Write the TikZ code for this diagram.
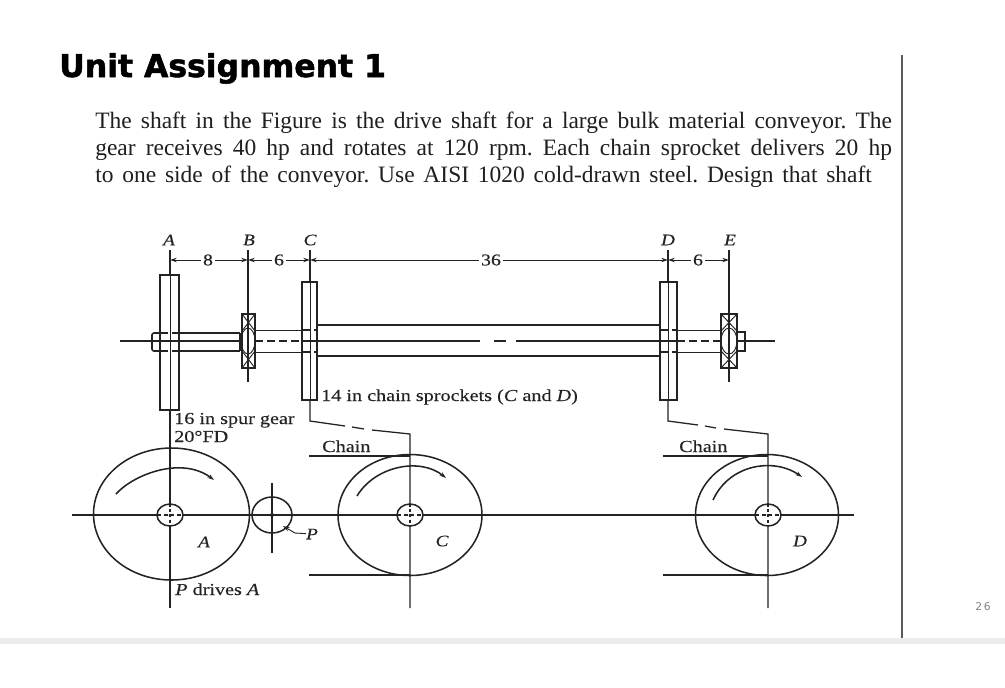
\documentclass[tikz,border=0pt]{standalone}
\usepackage{fontspec}
\setmainfont{Liberation Serif}
\newfontfamily\titlefont[BoldFeatures={FakeBold=1.6}]{DejaVu Sans}
\newfontfamily\figfont[FakeStretch=1.2, FakeBold=0.25]{Liberation Serif}
\usepackage{tikz}
\usetikzlibrary{shapes,arrows,arrows.meta,positioning,calc}
\definecolor{inkgray}{RGB}{35,35,35}
\definecolor{rulegray}{RGB}{90,90,90}
\definecolor{footgray}{RGB}{236,236,236}
\definecolor{pagegray}{RGB}{130,130,130}
\tikzset{
  figline/.style={draw=inkgray, line width=0.95pt},
  wheelline/.style={draw=inkgray, line width=1.15pt},
  thinline/.style={draw=inkgray, line width=0.7pt},
  hidden/.style={draw=inkgray, line width=0.8pt, dash pattern=on 6pt off 3pt},
  bodytext/.style={anchor=base west, inner sep=0pt, font=\fontsize{17.6}{20}\selectfont, text=black!88},
  figtext/.style={anchor=base west, inner sep=0pt, font=\figfont\fontsize{12.6}{14}\selectfont, text=inkgray},
  letter/.style={inner sep=0pt, font=\figfont\fontsize{12}{14}\selectfont\itshape, text=inkgray},
  dimnum/.style={inner sep=1.5pt, font=\figfont\fontsize{12.4}{14}\selectfont, text=inkgray}
}

\begin{document}
\begin{tikzpicture}[x=0.75pt, y=-0.75pt, >={Stealth[length=5pt,width=3.2pt]}]
    \useasboundingbox (0,0) rectangle (1005,687);
    \fill[white] (0,0) rectangle (1005,687);

    % slide frame
    \fill[footgray] (0,638) rectangle (1005,644);
    \draw[draw=rulegray, line width=0.8pt] (902,55) -- (902,638);
    \node[inner sep=0pt, text=pagegray, font=\titlefont\fontsize{8}{10}\selectfont] (pagenum) at (983,607) {2\,6};

    % title and text
    \node[anchor=base west, inner sep=0pt, font=\titlefont\bfseries\fontsize{23.6}{26}\selectfont] (title) at (59,77) {Unit Assignment 1};
    \node[bodytext] (lineone) at (95,128) {\frenchspacing\makebox[597.5pt][s]{The shaft in the Figure is the drive shaft for a large bulk material conveyor. The}};
    \node[bodytext] (linetwo) at (95,155) {\frenchspacing\makebox[597.5pt][s]{gear receives 40 hp and rotates at 120 rpm. Each chain sprocket delivers 20 hp}};
    \node[bodytext] (linethree) at (95,182) {\frenchspacing\makebox[582.5pt][s]{to one side of the conveyor. Use AISI 1020 cold-drawn steel. Design that shaft}};

    % section letters
    \node[letter] (letA) at (169,240) {A};
    \node[letter] (letB) at (249,240) {B};
    \node[letter] (letC) at (310,240) {C};
    \node[letter] (letD) at (668,240) {D};
    \node[letter] (letE) at (730,240) {E};

    % dimensions
    \coordinate (dimA) at (170,260);
    \coordinate (dimB) at (248,260);
    \coordinate (dimC) at (310,260);
    \coordinate (dimD) at (668,260);
    \coordinate (dimE) at (729,260);
    \node[dimnum] (numAB) at (208,260) {8};
    \node[dimnum] (numBC) at (279,260) {6};
    \node[dimnum] (numCD) at (491,260) {36};
    \node[dimnum] (numDE) at (698,260) {6};
    \draw[->, thinline] (numAB) -- (dimA);
    \draw[->, thinline] (numAB) -- (dimB);
    \draw[->, thinline] (numBC) -- (dimB);
    \draw[->, thinline] (numBC) -- (dimC);
    \draw[->, thinline] (numCD) -- (dimC);
    \draw[->, thinline] (numCD) -- (dimD);
    \draw[->, thinline] (numDE) -- (dimD);
    \draw[->, thinline] (numDE) -- (dimE);

    % vertical center lines
    \draw[figline] (170,250) -- (170,275);
    \draw[thinline] (170,275) -- (170,410);
    \draw[figline] (248,250) -- (248,382);
    \draw[figline] (310,250) -- (310,282);
    \draw[thinline] (310,282) -- (310,400);
    \draw[figline] (668,250) -- (668,282);
    \draw[thinline] (668,282) -- (668,400);
    \draw[figline] (729,250) -- (729,382);

    % gear and sprockets
    \draw[figline] (160,275) rectangle (179,410);
    \draw[figline] (302,282) rectangle (317,400);
    \draw[figline] (660,282) rectangle (677,400);

    % shaft
    \draw[figline, line width=1.2pt, rounded corners=1.5pt] (160,333) -- (152,333) -- (152,351) -- (160,351);
    \draw[figline] (179,333) -- (240,333);
    \draw[figline] (179,351) -- (240,351);
    \draw[figline, line width=1.3pt] (240,333) -- (240,351);
    \draw[thinline] (255,330) -- (302,330);
    \draw[thinline] (255,352) -- (302,352);
    \draw[figline] (317,325) -- (660,325);
    \draw[figline] (317,356) -- (660,356);
    \draw[thinline] (677,330) -- (721,330);
    \draw[thinline] (677,352) -- (721,352);
    \draw[hidden] (160,333) -- (179,333);
    \draw[hidden] (160,351) -- (179,351);
    \draw[hidden] (302,330) -- (317,330);
    \draw[hidden] (302,352) -- (317,352);
    \draw[hidden] (660,330) -- (677,330);
    \draw[hidden] (660,352) -- (677,352);

    % shaft center line
    \draw[figline] (120,341) -- (242,341);
    \draw[hidden] (255,341) -- (302,341);
    \draw[figline] (302,341) -- (480,341);
    \draw[figline] (494,341) -- (506,341);
    \draw[figline] (516,341) -- (677,341);
    \draw[hidden] (677,341) -- (721,341);
    \draw[figline] (737,341) -- (775,341);

    % bearing B
    \draw[figline, line width=1.2pt] (242,314) rectangle (255,368);
    \draw[thinline] (242,314) -- (255,331) (255,314) -- (242,331);
    \draw[thinline] (242,351) -- (255,368) (255,351) -- (242,368);
    \draw[thinline] (248,341) ellipse (7 and 13);

    % bearing E
    \draw[figline, line width=1.2pt] (721,314) rectangle (737,368);
    \draw[thinline] (721,314) -- (737,331) (737,314) -- (721,331);
    \draw[thinline] (721,351) -- (737,368) (737,351) -- (721,368);
    \draw[thinline] (729,341) ellipse (8 and 13);
    \draw[figline, line width=1.1pt] (737,332) -- (745,332) -- (745,351) -- (737,351);

    % leaders down to end view
    \draw[figline] (170,410) -- (170,608);
    \draw[figline] (310,400) -- (310,421) -- (345,426);
    \draw[figline] (352,427) -- (364,429);
    \draw[figline] (372,430) -- (410,434) -- (410,608);
    \draw[figline] (668,400) -- (668,421) -- (698,425);
    \draw[figline] (705,426) -- (716,428);
    \draw[figline] (724,429) -- (768,434) -- (768,608);

    % horizontal line of end view
    \draw[figline] (72,515) -- (854,515);

    % wheels
    \draw[wheelline] (171.5,514) ellipse (78 and 66);
    \draw[wheelline] (410,515) ellipse (72 and 60.5);
    \draw[wheelline] (767,515) ellipse (71.5 and 60.5);
    \draw[wheelline] (272,515) ellipse (20 and 18);
    \draw[figline] (272,483) -- (272,553);
    \fill[inkgray] (272,515) circle (2);

    % hubs
    \foreach \hubx in {170,410,768} {
        \draw[wheelline, fill=white] (\hubx,515) ellipse (13 and 11);
        \draw[hidden, dash pattern=on 3pt off 2pt] (\hubx-13,515) -- (\hubx+13,515);
        \draw[hidden, dash pattern=on 2pt off 2pt] (\hubx,504) -- (\hubx,526);
        \fill[inkgray] (\hubx,515) circle (1.5);
    }

    % chains
    \draw[figline, line width=1.2pt] (309,456) -- (410,456);
    \draw[figline, line width=1.2pt] (309,575) -- (410,575);
    \draw[figline, line width=1.2pt] (663,456) -- (768,456);
    \draw[figline, line width=1.2pt] (663,575) -- (768,575);

    % rotation arrows
    \draw[->, wheelline] (116,494) .. controls (134,474) and (182,456) .. (214,480);
    \draw[->, wheelline] (357,496) .. controls (375,466) and (420,457) .. (446,478);
    \draw[->, wheelline] (713,500) .. controls (730,463) and (775,458) .. (802,477);

    % labels
    \node[figtext] (sprocketlabel) at (321,401) {14 in chain sprockets (\textit{C} and \textit{D})};
    \node[figtext] (gearsize) at (174,424) {16 in spur gear};
    \node[figtext] (gearangle) at (174,442) {20°FD};
    \node[figtext] (chainC) at (322,452) {Chain};
    \node[figtext] (chainD) at (679,452) {Chain};
    \node[figtext] (drives) at (175,595) {\textit{P} drives \textit{A}};
    \node[letter] (wheelA) at (204,542) {A};
    \node[letter] (wheelC) at (442,541) {C};
    \node[letter] (wheelD) at (800,541) {D};
    \node[letter] (pinionP) at (312,534) {P};
    \coordinate (pinionedge) at (283,526);
    \draw[->, thinline] (pinionP) -- (295,533) -- (pinionedge);
\end{tikzpicture}
\end{document}
